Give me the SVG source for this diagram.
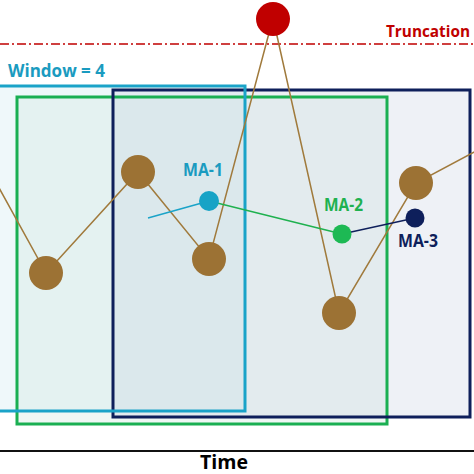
<svg xmlns="http://www.w3.org/2000/svg" width="474" height="474" viewBox="0 0 474 474">
<style>
.lbl{font-family:"Open Sans","Liberation Sans",sans-serif;font-weight:bold}
.win{stroke-width:3;fill:none}
.pt{fill:#9c7234}
</style>
<rect width="474" height="474" fill="#ffffff"/>
<g id="window-fills">
<rect x="-5" y="86" width="250" height="325" fill="#d6eef2" fill-opacity="0.4"/>
<rect x="17" y="97" width="370" height="327" fill="#d2e8e0" fill-opacity="0.35"/>
<rect x="113" y="90" width="357" height="327" fill="#c8cfe0" fill-opacity="0.3"/>
</g>
<g id="windows">
<g id="win2"><rect class="win" x="17" y="97" width="370" height="327" stroke="#1aaf52"/></g>
<g id="win3"><rect class="win" x="113" y="90" width="357" height="327" stroke="#0e1f5b"/></g>
<g id="win1"><rect class="win" x="-5" y="86" width="250" height="325" stroke="#1aa3c8"/></g>
</g>
<g id="truncation">
<line x1="0" y1="44" x2="474" y2="44" stroke="#c00000" stroke-width="1.5" stroke-dasharray="9 3 2 3"/>
<text class="lbl" x="386" y="37" font-size="16" fill="#c00000" textLength="84" lengthAdjust="spacingAndGlyphs">Truncation</text>
</g>
<text class="lbl" x="8" y="77" font-size="17" fill="#1a9bc0" textLength="97" lengthAdjust="spacingAndGlyphs">Window = 4</text>
<g id="connectors">
<polyline points="-2,186 46,273 138,172 209,259 273,18 339,313 416,183 476,151" fill="none" stroke="#a07a3c" stroke-width="1.5"/>
<line x1="148" y1="218" x2="209" y2="201" stroke="#1aa3c8" stroke-width="1.5"/>
<line x1="209" y1="201" x2="342" y2="234" stroke="#1fb14f" stroke-width="1.5"/>
<line x1="342" y1="234" x2="415" y2="218" stroke="#0e1f5b" stroke-width="1.5"/>
</g>
<g id="points">
<circle class="pt" cx="46" cy="273" r="17"/>
<circle class="pt" cx="138" cy="172" r="17"/>
<circle class="pt" cx="209" cy="259" r="17"/>
<circle class="pt" cx="339" cy="313" r="17"/>
<circle class="pt" cx="416" cy="183" r="17"/>
<circle cx="273" cy="19" r="17" fill="#c00000"/>
</g>
<g id="ma1"><circle cx="209" cy="201" r="10" fill="#17a3c6"/><text class="lbl" x="183" y="176" font-size="18" fill="#1a9bc0" textLength="40" lengthAdjust="spacingAndGlyphs">MA-1</text></g>
<g id="ma2"><circle cx="342" cy="234" r="9.5" fill="#1db954"/><text class="lbl" x="324" y="211" font-size="18" fill="#1fb14f" textLength="39" lengthAdjust="spacingAndGlyphs">MA-2</text></g>
<g id="ma3"><circle cx="415" cy="218" r="9.5" fill="#0e1f5b"/><text class="lbl" x="398" y="247" font-size="18" fill="#0e1f5b" textLength="40" lengthAdjust="spacingAndGlyphs">MA-3</text></g>
<g id="axis">
<line x1="0" y1="451" x2="474" y2="451" stroke="#111111" stroke-width="2"/>
<text class="lbl" x="200" y="469" font-size="20" fill="#000000" textLength="48" lengthAdjust="spacingAndGlyphs">Time</text>
</g>
</svg>
